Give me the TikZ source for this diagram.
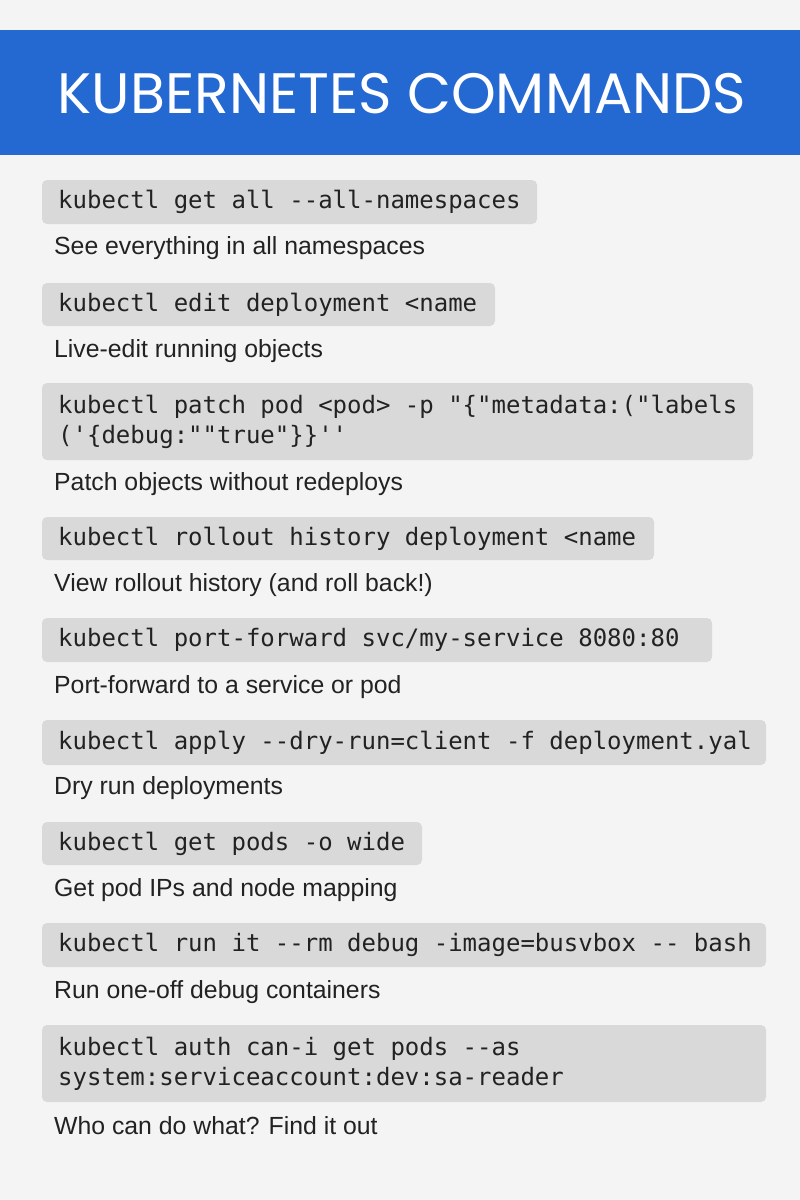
\documentclass[tikz,border=0pt]{standalone}
\usepackage{fontspec}
\setmainfont{Liberation Sans}
\newfontfamily\monof{DejaVu Sans Mono}
\newfontfamily\titlef{Poppins}
\definecolor{bg}{HTML}{F4F4F4}
\definecolor{hdr}{HTML}{2468D2}
\definecolor{boxc}{HTML}{D9D9D9}
\definecolor{txt}{HTML}{222222}
\begin{document}
\begin{tikzpicture}[x=1pt,y=-1pt,
  cmdbox/.style={fill=boxc,rounded corners=5pt},
  cmd/.style={anchor=west,inner sep=0pt,font=\monof\fontsize{24}{30}\selectfont,text=txt,align=left},
  desc/.style={anchor=west,inner sep=0pt,font=\fontsize{24.8}{30}\selectfont,text=txt}]
\fill[bg] (0,0) rectangle (800,1200);
\useasboundingbox (0,0) rectangle (800,1200);
\fill[hdr] (0,30) rectangle (800,155);
\node[font=\titlef\fontsize{57}{57}\selectfont,text=white] (title) at (402,94) {KUBERNETES COMMANDS};
\foreach \n/\t/\b/\r/\c/\d/\dy in {
 1/180/224/537/{kubectl get all --all-namespaces}/{See everything in all namespaces}/248,
 2/283/326/495/{kubectl edit deployment <name}/{Live-edit running objects}/351,
 3/383/460/753/{kubectl patch pod <pod> -p "\{"metadata:("labels\\('\{debug:""true"\}\}''}/{Patch objects without redeploys}/484,
 4/517/560/654/{kubectl rollout history deployment <name}/{View rollout history (and roll back!)}/585,
 5/618/662/712/{kubectl port-forward svc/my-service 8080:80}/{Port-forward to a service or pod}/687,
 6/720/765/766/{kubectl apply --dry-run=client -f deployment.yal}/{Dry run deployments}/788,
 7/822/865/422/{kubectl get pods -o wide}/{Get pod IPs and node mapping}/890,
 8/923/967/766/{kubectl run it --rm debug -image=busvbox -- bash}/{Run one-off debug containers}/992,
 9/1025/1102/766/{kubectl auth can-i get pods --as\\system:serviceaccount:dev:sa-reader}/{Who can do what? Find it out}/1126}
{
 \fill[cmdbox] (42,\t) rectangle (\r,\b);
 \node[cmd] (c\n) at (58,{(\t+\b)/2}) {\c};
 \node[desc] (d\n) at (54,\dy) {\d};
}
\end{tikzpicture}
\end{document}
